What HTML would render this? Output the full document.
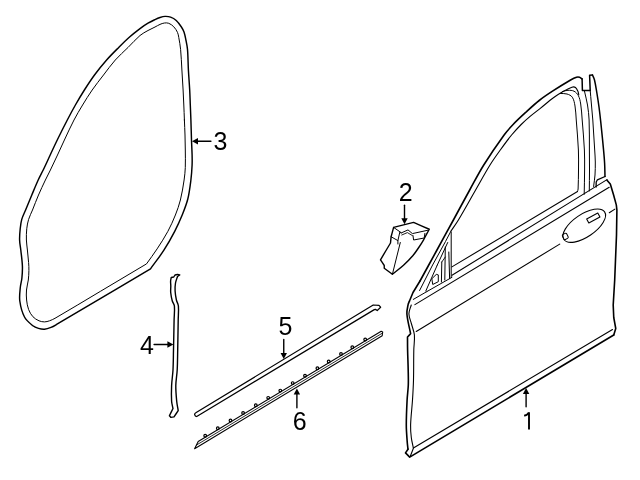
<!DOCTYPE html>
<html><head><meta charset="utf-8"><style>
html,body{margin:0;padding:0;background:#fff;width:640px;height:480px;overflow:hidden}
svg{display:block;will-change:transform}
text{font-family:"Liberation Sans",sans-serif;font-size:25px;fill:#000}
</style></head><body>
<svg width="640" height="480" viewBox="0 0 640 480">
<g fill="none" stroke="#000" stroke-linejoin="round" stroke-linecap="round">
<path d="M190.90 120.00 C191.13 126.67 191.27 133.33 191.50 140.00 C191.67 145.00 191.98 150.00 192.10 155.00 C192.18 158.33 192.26 161.67 192.10 165.00 C191.86 170.01 191.53 175.02 190.90 180.00 C190.09 186.37 189.35 192.77 187.80 199.00 C186.44 204.48 184.32 209.76 182.20 215.00 C179.95 220.54 177.46 225.99 174.70 231.30 C171.35 237.74 167.83 244.10 163.90 250.20 C159.76 256.62 154.97 262.60 150.50 268.80 C134.88 278.07 119.27 287.34 103.65 296.60 C88.11 305.81 72.60 315.08 57.00 324.20 C55.04 325.34 53.10 326.56 51.00 327.40 C48.91 328.23 46.74 329.02 44.50 329.20 C42.49 329.36 40.44 328.97 38.50 328.40 C36.53 327.82 34.50 327.10 32.90 325.80 C29.76 323.24 26.39 320.59 24.50 317.00 C21.90 312.08 20.58 306.50 19.80 301.00 C19.17 296.54 19.89 291.98 20.30 287.50 C20.59 284.30 21.59 281.20 21.90 278.00 C22.29 274.02 22.56 270.00 22.40 266.00 C22.19 260.64 21.37 255.33 20.80 250.00 C20.44 246.66 19.69 243.36 19.60 240.00 C19.49 236.25 19.81 232.49 20.20 228.75 C20.53 225.61 20.88 222.44 21.75 219.40 C22.69 216.15 24.31 213.13 25.60 210.00 C27.66 205.00 29.70 199.99 31.80 195.00 C33.91 189.99 35.94 184.95 38.20 180.00 C39.75 176.61 41.59 173.36 43.20 170.00 C45.59 165.03 47.86 160.00 50.20 155.00 C52.54 150.00 54.82 144.96 57.25 140.00 C60.53 133.30 63.87 126.62 67.30 120.00 C69.92 114.96 72.59 109.94 75.40 105.00 C78.29 99.93 81.27 94.92 84.40 90.00 C87.64 84.92 90.91 79.85 94.50 75.00 C98.32 69.84 102.36 64.83 106.60 60.00 C110.45 55.62 114.63 51.53 118.75 47.40 C122.10 44.03 125.44 40.65 129.00 37.50 C132.53 34.37 136.23 31.44 140.00 28.60 C142.57 26.67 145.24 24.86 148.00 23.20 C150.25 21.85 152.63 20.73 155.00 19.60 C156.63 18.82 158.28 18.05 160.00 17.50 C161.63 16.98 163.29 16.46 165.00 16.40 C166.88 16.33 168.83 16.46 170.60 17.10 C172.67 17.85 174.62 19.02 176.25 20.50 C178.23 22.29 179.76 24.54 181.25 26.75 C182.35 28.39 183.35 30.14 184.00 32.00 C184.91 34.59 185.36 37.31 185.90 40.00 C186.53 43.12 187.24 46.23 187.50 49.40 C188.07 56.25 188.03 63.14 188.40 70.00 C188.76 76.67 189.34 83.33 189.70 90.00 C189.97 95.00 190.10 100.00 190.30 105.00 C190.50 110.00 190.73 115.00 190.90 120.00Z" stroke-width="1.45"/>
<path d="M184.40 120.00 C184.60 125.00 184.85 130.00 185.00 135.00 C185.15 140.00 185.25 145.00 185.30 150.00 C185.35 155.83 185.53 161.67 185.30 167.50 C185.13 171.68 184.72 175.86 184.10 180.00 C183.09 186.70 182.04 193.42 180.40 200.00 C179.13 205.11 177.35 210.11 175.40 215.00 C173.18 220.55 170.74 226.04 167.90 231.30 C164.63 237.36 160.88 243.15 157.10 248.90 C153.74 254.02 150.03 258.90 146.50 263.90 C131.22 273.00 115.94 282.11 100.65 291.20 C85.44 300.24 70.32 309.44 55.00 318.30 C53.26 319.31 51.40 320.15 49.50 320.80 C47.89 321.35 46.21 321.90 44.50 321.90 C42.63 321.90 40.71 321.56 39.00 320.80 C36.76 319.80 34.56 318.50 32.90 316.70 C31.01 314.64 29.59 312.12 28.60 309.50 C27.46 306.47 26.95 303.22 26.60 300.00 C26.24 296.69 26.22 293.32 26.50 290.00 C26.79 286.63 27.88 283.36 28.30 280.00 C28.69 276.88 28.85 273.74 28.90 270.60 C28.95 267.90 28.80 265.19 28.60 262.50 C28.30 258.33 27.81 254.17 27.40 250.00 C27.07 246.67 26.50 243.35 26.40 240.00 C26.29 236.25 26.35 232.48 26.75 228.75 C27.09 225.59 27.67 222.44 28.60 219.40 C29.59 216.16 31.22 213.14 32.50 210.00 C34.52 205.01 36.37 199.95 38.50 195.00 C40.67 189.94 43.03 184.97 45.40 180.00 C47.00 176.63 48.78 173.35 50.40 170.00 C52.81 165.02 55.16 160.01 57.50 155.00 C59.83 150.01 62.05 144.98 64.40 140.00 C67.55 133.31 70.59 126.56 74.00 120.00 C76.66 114.89 79.61 109.93 82.60 105.00 C85.68 99.92 88.81 94.87 92.20 90.00 C95.78 84.86 99.68 79.96 103.50 75.00 C107.38 69.96 111.07 64.75 115.30 60.00 C119.28 55.53 123.85 51.62 128.10 47.40 C132.08 43.45 135.72 39.13 140.00 35.50 C142.40 33.46 145.26 32.05 148.00 30.50 C150.27 29.21 152.67 28.18 155.00 27.00 C156.67 26.15 158.27 25.14 160.00 24.40 C161.42 23.80 162.87 23.19 164.40 23.00 C165.84 22.82 167.40 22.76 168.75 23.30 C170.63 24.05 172.35 25.29 173.75 26.75 C175.32 28.38 176.54 30.35 177.50 32.40 C178.23 33.96 178.44 35.71 178.75 37.40 C179.48 41.38 180.21 45.37 180.60 49.40 C181.26 56.25 181.48 63.13 181.90 70.00 C182.31 76.67 182.74 83.33 183.10 90.00 C183.37 95.00 183.58 100.00 183.80 105.00 C184.02 110.00 184.20 115.00 184.40 120.00Z" stroke-width="1.00"/>
<path d="M171.25 277.50 C171.03 278.67 170.66 279.82 170.60 281.00 C170.51 282.67 170.79 284.33 170.80 286.00 C170.82 288.17 170.48 290.34 170.70 292.50 C170.99 295.37 171.54 298.22 172.30 301.00 C172.78 302.74 174.23 304.20 174.40 306.00 C174.84 310.65 174.20 315.33 174.10 320.00 C173.90 330.00 173.72 340.00 173.50 350.00 C173.35 356.67 173.36 363.34 173.00 370.00 C172.72 375.21 171.83 380.38 171.60 385.60 C171.37 390.81 171.28 396.04 171.60 401.25 C171.75 403.71 172.53 406.08 173.00 408.50 C171.80 410.93 170.60 413.37 169.40 415.80 C169.90 416.33 170.40 416.87 170.90 417.40 C171.93 417.23 172.97 417.07 174.00 416.90 C175.40 414.80 176.80 412.70 178.20 410.60 C177.70 407.48 177.00 404.39 176.70 401.25 C176.20 396.05 175.72 390.82 175.80 385.60 C175.88 380.38 176.92 375.21 177.20 370.00 C177.56 363.34 177.57 356.67 177.70 350.00 C177.90 340.00 178.04 330.00 178.20 320.00 C178.27 315.33 178.82 310.65 178.40 306.00 C178.21 303.90 176.85 302.06 176.40 300.00 C175.75 297.04 175.26 294.03 175.10 291.00 C174.96 288.33 175.06 285.63 175.50 283.00 C175.87 280.76 176.83 278.67 177.50 276.50 C178.25 276.00 179.00 275.50 179.75 275.00 C179.00 274.80 178.25 274.60 177.50 274.40 C176.67 274.60 175.83 274.80 175.00 275.00 C174.58 275.67 174.17 276.33 173.75 277.00 C172.92 277.17 172.08 277.33 171.25 277.50Z" stroke-width="1.40"/>
<path d="M195.80 412.70 L373.20 305.00 L379.00 305.30 L380.60 307.20 L377.20 310.60 L375.40 309.30 L374.30 309.60 L196.7 416.5 A2 2 0 0 1 195.8 412.7Z" stroke-width="1.25"/>
<path d="M198.20 441.50 L381.20 331.33 L382.70 332.03 L382.20 335.73 L194.60 448.67Z" stroke-width="1.10"/>
<path d="M196.60 444.96 L382.50 333.05" stroke-width="0.85"/>
<circle cx="205.20" cy="435.79" r="1.35" stroke-width="1.2"/>
<circle cx="217.80" cy="428.20" r="1.35" stroke-width="1.2"/>
<circle cx="230.50" cy="420.56" r="1.35" stroke-width="1.2"/>
<circle cx="243.10" cy="412.97" r="1.35" stroke-width="1.2"/>
<circle cx="255.80" cy="405.32" r="1.35" stroke-width="1.2"/>
<circle cx="268.20" cy="397.86" r="1.35" stroke-width="1.2"/>
<circle cx="280.30" cy="390.58" r="1.35" stroke-width="1.2"/>
<circle cx="292.70" cy="383.11" r="1.35" stroke-width="1.2"/>
<circle cx="305.00" cy="375.71" r="1.35" stroke-width="1.2"/>
<circle cx="317.40" cy="368.24" r="1.35" stroke-width="1.2"/>
<circle cx="328.70" cy="361.44" r="1.35" stroke-width="1.2"/>
<circle cx="341.00" cy="354.03" r="1.35" stroke-width="1.2"/>
<circle cx="352.30" cy="347.23" r="1.35" stroke-width="1.2"/>
<circle cx="365.20" cy="339.47" r="1.35" stroke-width="1.2"/>
<path d="M393.60 227.40 C400.27 225.73 406.93 224.07 413.60 222.40 C418.82 224.68 424.03 226.97 429.25 229.25 C428.37 230.90 427.48 232.55 426.60 234.20 C425.60 236.07 424.67 237.97 423.60 239.80 C422.22 242.16 420.78 244.48 419.25 246.75 C417.24 249.72 415.33 252.77 413.00 255.50 C410.06 258.94 406.85 262.15 403.50 265.20 C399.97 268.41 396.10 271.23 392.40 274.25 C389.68 272.27 386.97 270.28 384.25 268.30 C384.25 267.37 384.25 266.43 384.25 265.50 C383.00 263.63 381.75 261.77 380.50 259.90 C382.33 256.77 384.15 253.62 386.00 250.50 C387.48 247.99 389.00 245.50 390.50 243.00 C390.70 240.92 390.90 238.83 391.10 236.75 C391.93 233.63 392.77 230.52 393.60 227.40Z" stroke-width="1.40"/>
<path d="M393.60 227.40 L399.90 231.75 L401.10 233.00" stroke-width="1.00"/>
<path d="M401.10 233.00 L408.00 229.90 L412.40 233.60 L428.00 230.20" stroke-width="1.00"/>
<path d="M401.75 235.00 L407.40 232.60 L412.40 235.60" stroke-width="0.90"/>
<path d="M413.00 235.60 L413.60 240.00 L424.20 238.00 L424.90 233.40" stroke-width="1.00"/>
<path d="M391.10 236.75 L397.90 240.60 L397.90 244.00" stroke-width="1.00"/>
<path d="M399.90 231.75 L397.90 240.60" stroke-width="1.00"/>
<path d="M400.30 242.50 L392.40 274.25" stroke-width="1.00"/>
<path d="M409.40 301.25 L413.00 292.50 L420.00 281.00" stroke-width="1.60"/>
<path d="M420.00 281.00 C425.57 270.83 431.13 260.67 436.70 250.50 C442.27 240.33 447.85 230.18 453.40 220.00 C458.85 210.01 464.20 199.96 469.70 190.00 C474.32 181.63 478.68 173.10 483.75 165.00 C490.16 154.76 497.01 144.78 504.10 135.00 C506.81 131.27 509.92 127.83 513.10 124.50 C517.09 120.32 521.35 116.41 525.60 112.50 C530.05 108.41 534.46 104.25 539.20 100.50 C543.44 97.14 547.97 94.16 552.50 91.20 C558.44 87.32 564.47 83.57 570.60 80.00 C572.48 78.90 574.42 77.85 576.50 77.20 C577.45 76.90 578.54 76.91 579.50 77.20 C580.49 77.50 581.23 78.33 582.10 78.90" stroke-width="1.60"/>
<path d="M582.10 78.90 L582.40 90.40 L590.20 90.40 L589.60 75.20 L592.50 75.00" stroke-width="1.50"/>
<path d="M592.50 75.00 C593.17 76.67 594.07 78.26 594.50 80.00 C595.51 84.11 596.10 88.32 596.80 92.50 C597.60 97.32 598.35 102.15 599.00 107.00 C599.68 112.09 600.26 117.19 600.80 122.30 C601.76 131.33 602.66 140.36 603.50 149.40 C603.92 153.93 604.35 158.46 604.60 163.00 C604.85 167.50 604.87 172.00 605.00 176.50" stroke-width="1.50"/>
<path d="M605.00 176.50 L597.40 179.80 L596.20 182.00 L596.10 187.00" stroke-width="1.30"/>
<path d="M607.00 180.20 L610.30 184.10 L613.60 195.00 L616.30 204.90 L616.90 210.00 L616.50 235.00 L615.50 260.00 L614.70 280.00 L613.20 305.00 L613.75 317.50 L615.75 328.50 L613.75 335.00" stroke-width="1.60"/>
<path d="M613.75 335.00 L409.70 457.10 L405.50 452.90 L408.00 449.20" stroke-width="1.60"/>
<path d="M408.00 449.20 C407.73 446.70 407.38 444.21 407.20 441.70 C406.81 436.14 406.31 430.57 406.30 425.00 C406.28 416.66 406.68 408.33 407.10 400.00 C407.35 394.99 408.12 390.01 408.30 385.00 C408.48 380.00 408.30 375.00 408.20 370.00 C408.07 363.33 407.74 356.67 407.60 350.00 C407.51 345.67 407.53 341.33 407.50 337.00 C408.53 335.92 409.57 334.83 410.60 333.75 C409.37 327.17 407.47 320.67 406.90 314.00 C406.63 310.85 407.49 307.70 408.10 304.60 C408.33 303.42 408.97 302.37 409.40 301.25" stroke-width="1.60"/>
<path d="M411.25 305.00 C410.47 307.92 408.86 310.73 408.90 313.75 C408.95 317.27 410.62 320.59 411.50 324.00 C412.45 327.67 414.07 331.22 414.40 335.00 C414.84 339.98 413.90 345.00 413.80 350.00 C413.60 360.00 413.76 370.00 413.50 380.00 C413.33 386.67 412.93 393.34 412.50 400.00 C411.96 408.34 410.87 416.65 410.60 425.00 C410.47 429.17 410.80 433.36 411.30 437.50 C411.74 441.14 412.70 444.70 413.40 448.30 C412.43 450.80 411.47 453.30 410.50 455.80" stroke-width="1.10"/>
<path d="M413.40 448.00 L612.50 329.50" stroke-width="1.10"/>
<path d="M451.00 231.00 C453.47 227.33 456.13 223.79 458.40 220.00 C464.33 210.12 469.86 199.99 475.60 190.00 C480.39 181.66 484.95 173.18 490.00 165.00 C493.19 159.84 496.76 154.92 500.30 150.00 C503.96 144.92 507.63 139.84 511.60 135.00 C514.61 131.33 517.86 127.86 521.20 124.50 C523.93 121.76 526.85 119.20 529.80 116.70 C533.12 113.90 536.61 111.32 540.00 108.60 C544.60 104.92 549.02 101.00 553.75 97.50 C556.73 95.30 559.88 93.33 563.10 91.50 C565.94 89.89 568.79 88.20 571.90 87.20 C573.05 86.83 574.52 86.81 575.50 87.50 C576.79 88.41 577.37 90.06 578.00 91.50 C578.48 92.60 578.53 93.83 578.80 95.00" stroke-width="1.10"/>
<path d="M451.00 231.00 L445.50 241.50 L432.60 265.00 L419.60 290.50" stroke-width="1.00"/>
<path d="M562.50 91.50 C564.33 91.10 566.12 90.35 568.00 90.30 C570.02 90.25 572.19 90.29 574.00 91.20 C575.81 92.11 577.36 93.70 578.30 95.50 C579.67 98.11 580.24 101.09 580.70 104.00 C581.54 109.29 581.77 114.66 582.20 120.00 C583.00 129.99 583.92 139.98 584.40 150.00 C584.72 156.66 584.63 163.33 584.60 170.00 C584.56 178.10 584.33 186.20 584.20 194.30" stroke-width="1.00"/>
<path d="M560.50 93.50 C562.67 93.67 564.93 93.35 567.00 94.00 C568.97 94.62 571.16 95.48 572.30 97.20 C574.00 99.75 574.48 102.98 575.00 106.00 C575.80 110.62 575.89 115.33 576.25 120.00 C577.02 130.00 577.95 139.98 578.40 150.00 C578.70 156.66 578.55 163.33 578.50 170.00 C578.45 176.33 578.39 182.67 578.10 189.00 C578.06 189.86 577.70 190.67 577.50 191.50" stroke-width="1.00"/>
<path d="M584.50 91.30 C585.50 95.87 586.76 100.38 587.50 105.00 C588.30 109.96 588.89 114.98 589.10 120.00 C589.52 129.99 589.32 140.00 589.40 150.00 C589.45 156.67 589.52 163.33 589.50 170.00 C589.48 177.00 589.37 184.00 589.30 191.00" stroke-width="1.00"/>
<path d="M590.20 90.40 C590.57 94.60 590.93 98.80 591.30 103.00 C591.80 108.67 592.39 114.33 592.80 120.00 C593.52 129.99 594.10 140.00 594.70 150.00 C594.94 154.00 595.25 158.00 595.30 162.00 C595.35 166.33 595.30 170.68 595.00 175.00 C594.73 178.85 594.07 182.67 593.60 186.50" stroke-width="1.00"/>
<path d="M451.90 266.90 L577.50 191.50" stroke-width="1.10"/>
<path d="M413.30 299.40 L427.00 291.50" stroke-width="1.00"/>
<path d="M452.00 275.30 L607.00 179.60" stroke-width="1.10"/>
<path d="M414.90 304.60 L609.20 187.30" stroke-width="1.10"/>
<path d="M416.25 331.50 L559.70 244.10" stroke-width="1.10"/>
<path d="M609.30 212.70 L614.90 209.10" stroke-width="1.10"/>
<ellipse cx="584.25" cy="225.7" rx="24.6" ry="11.3" transform="rotate(-34.2 584.25 225.7)" stroke-width="1.1"/>
<rect x="-6.3" y="-2.3" width="12.6" height="4.6" transform="translate(593.3 218) rotate(-28)" stroke-width="1.1"/>
<rect x="-2.4" y="-2.6" width="4.8" height="5.6" rx="1.2" transform="translate(565.2 236.2) rotate(-25)" stroke-width="1.0"/>
<path d="M437.30 265.00 L425.80 291.00" stroke-width="1.00"/>
<path d="M447.70 242.50 L437.30 265.00" stroke-width="1.00"/>
<path d="M451.20 232.00 L451.20 277.50" stroke-width="1.00"/>
<path d="M448.80 252.00 L449.60 278.50" stroke-width="1.00"/>
<path d="M445.30 247.00 L444.80 280.00" stroke-width="1.00"/>
<path d="M441.80 262.00 L441.40 282.00" stroke-width="1.00"/>
<path d="M441.80 262.00 L445.30 257.00" stroke-width="0.90"/>
<path d="M432.10 278.50 L436.30 274.40 L438.30 274.90 L438.30 281.70 L433.10 284.30Z" stroke-width="1.00"/>
<path d="M427.00 291.50 L452.00 277.30" stroke-width="1.00"/>
<path d="M210.90 141.20 L197.50 141.20" stroke-width="1.40"/>
<path d="M192.00 141.20 L198.00 138.00 L198.00 144.40Z" fill="#000" stroke="none"/>
<path d="M154.10 344.50 L167.90 344.50" stroke-width="1.40"/>
<path d="M173.40 344.50 L167.40 347.70 L167.40 341.30Z" fill="#000" stroke="none"/>
<path d="M283.75 339.40 L283.75 353.50" stroke-width="1.40"/>
<path d="M283.75 359.00 L280.55 353.00 L286.95 353.00Z" fill="#000" stroke="none"/>
<path d="M296.90 407.75 L296.90 393.90" stroke-width="1.40"/>
<path d="M296.90 388.40 L300.10 394.40 L293.70 394.40Z" fill="#000" stroke="none"/>
<path d="M404.50 205.25 L404.50 218.80" stroke-width="1.40"/>
<path d="M404.50 224.30 L401.30 218.30 L407.70 218.30Z" fill="#000" stroke="none"/>
<path d="M526.10 406.75 L526.10 393.50" stroke-width="1.40"/>
<path d="M526.10 388.00 L529.30 394.00 L522.90 394.00Z" fill="#000" stroke="none"/>
<path d="M528.05 412.2 H529.95 V429.4 H528.05Z" fill="#000" stroke="none"/>
<path d="M524.1 415.6 Q527.3 415.3 528.7 412.6" stroke-width="1.8" stroke-linecap="butt"/>
</g>
<text x="213.50" y="149.85">3</text>
<text x="139.90" y="353.70">4</text>
<text x="278.50" y="334.60">5</text>
<text x="292.65" y="430.35">6</text>
<text x="398.80" y="200.50">2</text>
</svg>
</body></html>
